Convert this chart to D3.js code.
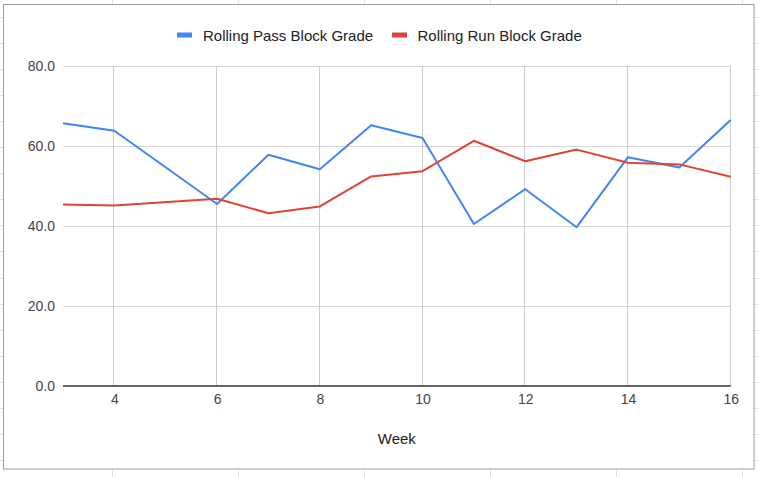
<!DOCTYPE html>
<html>
<head>
<meta charset="utf-8">
<script src="https://cdn.jsdelivr.net/npm/d3@7"></script>
<style>
  html, body { margin: 0; padding: 0; background: #fff; }
  svg { display: block; }
  text { font-family: Arial, "Liberation Sans", sans-serif; }
</style>
</head>
<body>
<svg id="chart" width="759" height="477"></svg>
<script>
const weeks = [3, 4, 6, 7, 8, 9, 10, 11, 12, 13, 14, 15, 16];
const passBlock = [65.7, 63.8, 45.5, 57.8, 54.2, 65.2, 62.0, 40.5, 49.2, 39.7, 57.2, 54.6, 66.5];
const runBlock  = [45.4, 45.1, 46.8, 43.2, 44.9, 52.4, 53.7, 61.3, 56.2, 59.1, 55.8, 55.4, 52.3];
const seriesNames = ["Rolling Pass Block Grade", "Rolling Run Block Grade"];
const seriesColors = ["#4285f4", "#db4437"];
const xTicks = [4, 6, 8, 10, 12, 14, 16];
const yTicks = [0, 20, 40, 60, 80];
const xTitle = "Week";

const W = 759, H = 477;
const FONT = 'Arial, "Liberation Sans", sans-serif';
const svg = d3.select("#chart");

// spreadsheet background grid (outside the chart frame)
const bg = svg.append("g");
const colXs = [112.5, 238.5, 364.5, 490.5, 616.5, 742.5];
colXs.forEach(x => {
  bg.append("line").attr("x1", x).attr("x2", x).attr("y1", 0).attr("y2", H)
    .attr("stroke", "#e2e2e2").attr("stroke-width", 1);
});
for (let i = 0; i < 18; i++) {
  const y = Math.round(17 + 26.05 * i) + 0.5;
  bg.append("line").attr("x1", 0).attr("x2", W).attr("y1", y).attr("y2", y)
    .attr("stroke", "#e2e2e2").attr("stroke-width", 1);
}

// chart frame
svg.append("rect").attr("x", 3.5).attr("y", 4.5).attr("width", 750.5).attr("height", 464.5)
  .attr("fill", "#fff").attr("stroke", "#9e9e9e").attr("stroke-width", 1);

const plot = { left: 63, right: 730.7, top: 66, bottom: 386 };
const x = d3.scaleLinear().domain([3, 16]).range([plot.left, plot.right]);
const y = d3.scaleLinear().domain([0, 80]).range([plot.bottom, plot.top]);

// horizontal gridlines
svg.append("g").selectAll("line").data(yTicks.filter(d => d !== 0)).join("line")
  .attr("x1", plot.left).attr("x2", plot.right)
  .attr("y1", d => Math.round(y(d)) + 0.5).attr("y2", d => Math.round(y(d)) + 0.5)
  .attr("stroke", "#d6d6d6").attr("stroke-width", 1);

// vertical gridlines
svg.append("g").selectAll("line").data(xTicks).join("line")
  .attr("x1", d => Math.round(x(d)) - 0.5).attr("x2", d => Math.round(x(d)) - 0.5)
  .attr("y1", plot.top).attr("y2", plot.bottom)
  .attr("stroke", "#cccccc").attr("stroke-width", 1);

// y axis labels
const yAxis = d3.axisLeft(y).tickValues(yTicks).tickSize(0).tickPadding(8).tickFormat(d3.format(".1f"));
const gy = svg.append("g").attr("transform", `translate(${plot.left},0)`).call(yAxis);
gy.select(".domain").remove();
gy.selectAll("text").attr("font-size", 14).attr("fill", "#444").attr("font-family", FONT);

// x axis labels
const xAxis = d3.axisBottom(x).tickValues(xTicks).tickSize(0).tickPadding(8).tickFormat(d3.format("d"));
const gx = svg.append("g").attr("transform", `translate(0,${plot.bottom})`).call(xAxis);
gx.select(".domain").remove();
gx.selectAll("text").attr("font-size", 14).attr("fill", "#444").attr("font-family", FONT);

// baseline
svg.append("line").attr("x1", plot.left).attr("x2", plot.right)
  .attr("y1", y(0)).attr("y2", y(0)).attr("stroke", "#333").attr("stroke-width", 1.5);

// lines
const line = d3.line().x(d => x(d[0])).y(d => y(d[1]));
[passBlock, runBlock].forEach((vals, i) => {
  svg.append("path").datum(weeks.map((w, j) => [w, vals[j]]))
    .attr("d", line).attr("fill", "none")
    .attr("stroke", seriesColors[i]).attr("stroke-width", 2)
    .attr("stroke-linejoin", "round");
});

// x title
svg.append("text").attr("x", (plot.left + plot.right) / 2).attr("y", 443.5)
  .attr("text-anchor", "middle").attr("font-size", 15).attr("fill", "#222").text(xTitle);

// legend
const legendPos = [{ sx: 177, tx: 203 }, { sx: 392, tx: 417.5 }];
seriesNames.forEach((name, i) => {
  svg.append("rect").attr("x", legendPos[i].sx).attr("y", 32.5).attr("width", 15).attr("height", 5)
    .attr("fill", seriesColors[i]);
  svg.append("text").attr("x", legendPos[i].tx).attr("y", 41).attr("font-size", 15)
    .attr("fill", "#222").text(name);
});
</script>
</body>
</html>
